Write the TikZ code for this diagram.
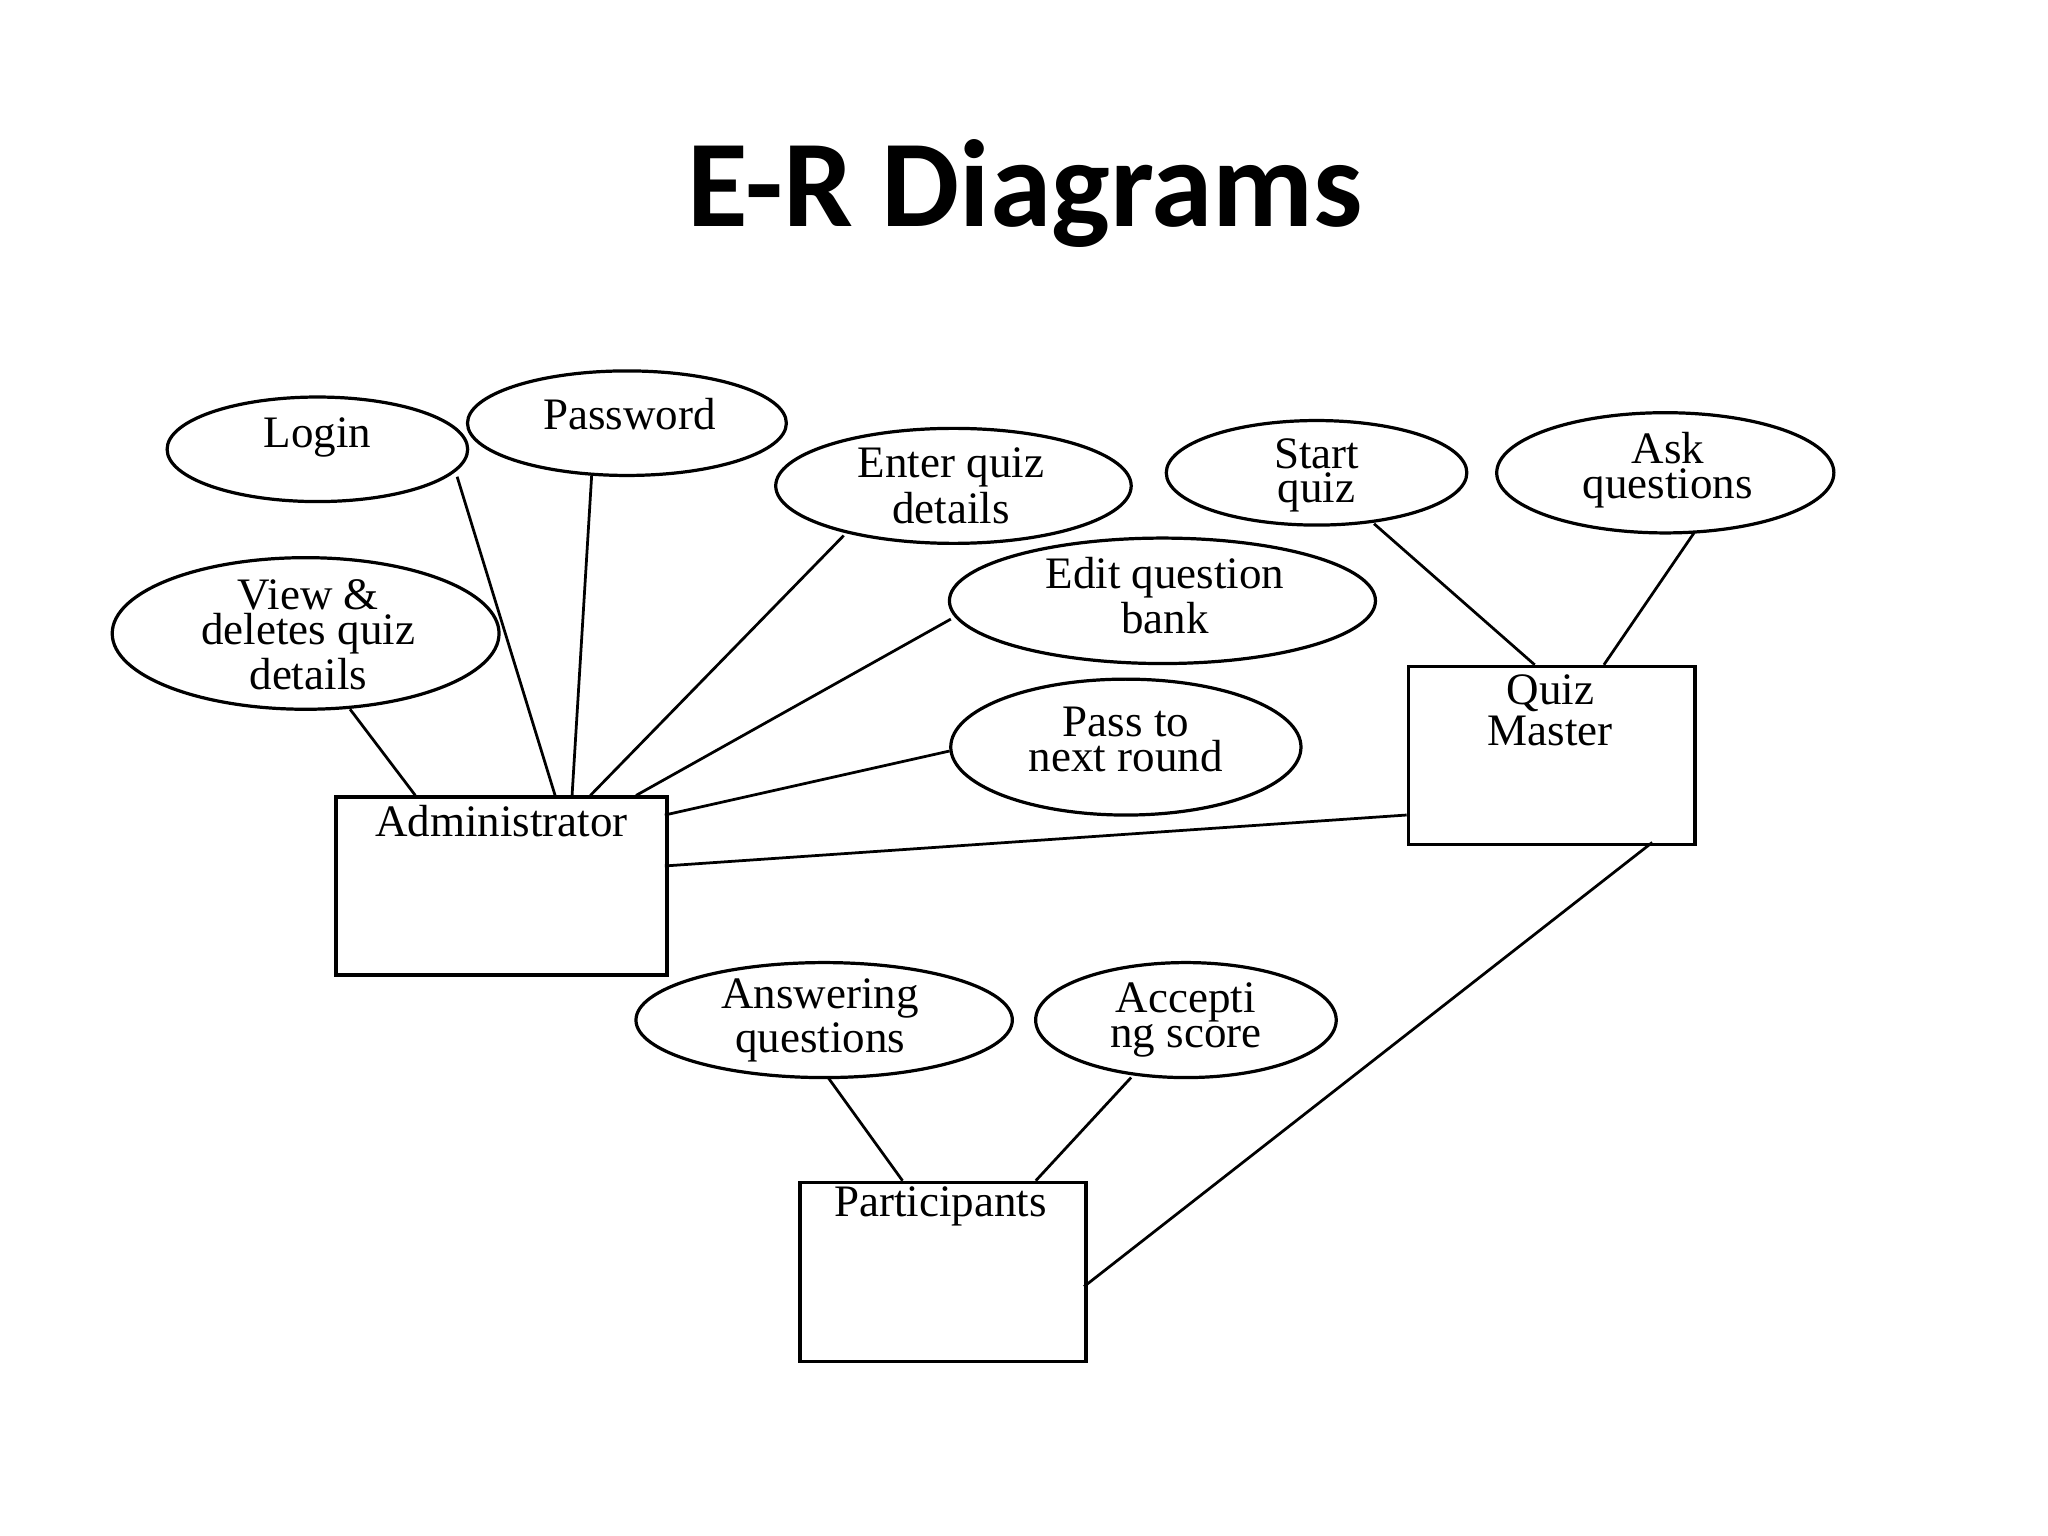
\documentclass[tikz,border=0pt]{standalone}
\usepackage{fontspec}
\setmainfont{Liberation Serif}
\newfontfamily\titlefont{Carlito}
\usetikzlibrary{shapes.geometric}
\begin{document}
\begin{tikzpicture}[x=0.01cm,y=-0.01cm,
  attr/.style={ellipse,draw,line width=0.7pt,inner sep=0pt},
  ent/.style={draw,line width=0.8pt,inner sep=0pt,anchor=north west},
  lbl/.style={font=\fontsize{9.8}{7.6}\selectfont,align=center,inner sep=0pt},
  conn/.style={line width=0.6pt}]
\useasboundingbox (0,0) rectangle (1568,1176);
\node[font=\titlefont\bfseries\fontsize{27}{27}\selectfont] (title) at (785,148) {E-R Diagrams};
% attributes
\node[attr,minimum width=2.30cm,minimum height=0.80cm] (login) at (243,344) {};
\node[lbl] (loginl) at (243,335) {Login};
\node[attr,minimum width=2.44cm,minimum height=0.80cm] (pwd) at (480,324) {};
\node[lbl] (pwdl) at (482,317) {Password};
\node[attr,minimum width=2.72cm,minimum height=0.88cm] (enter) at (730,372) {};
\node[lbl] (enterl) at (728,372) {Enter quiz\\details};
\node[attr,minimum width=2.30cm,minimum height=0.80cm] (start) at (1008,362) {};
\node[lbl] (startl) at (1008,364) {Start\\quiz};
\node[attr,minimum width=2.58cm,minimum height=0.92cm] (ask) at (1275,362) {};
\node[lbl] (askl) at (1277,360) {Ask\\questions};
\node[attr,minimum width=2.96cm,minimum height=1.16cm] (view) at (234,485) {};
\node[lbl] (viewl) at (236,486) {View \&\\deletes quiz\\details};
\node[attr,minimum width=3.26cm,minimum height=0.96cm] (edit) at (890,460) {};
\node[lbl] (editl) at (892,456) {Edit question\\bank};
\node[attr,minimum width=2.68cm,minimum height=1.04cm] (pass) at (862,572) {};
\node[lbl] (passl) at (862,566) {Pass to\\next round};
\node[attr,minimum width=2.88cm,minimum height=0.88cm] (ans) at (631,781) {};
\node[lbl] (ansl) at (628,781) {Answering\\questions};
\node[attr,minimum width=2.30cm,minimum height=0.88cm] (acc) at (908,781) {};
\node[lbl] (accl) at (908,781) {Accepti\\ng score};
% entities
\node[ent,minimum width=2.53cm,minimum height=1.36cm] (admin) at (256,609) {};
\node[lbl] (adminl) at (384,629) {Administrator};
\node[ent,minimum width=2.19cm,minimum height=1.36cm] (qm) at (1077,509) {};
\node[lbl] (qml) at (1187,544) {Quiz\\Master};
\node[ent,minimum width=2.19cm,minimum height=1.37cm] (part) at (611,904) {};
\node[lbl] (partl) at (720,924) {Participants};
% endpoints on entities
\coordinate (a1) at (425,609); \coordinate (a2) at (438,609);
\coordinate (a3) at (452,609); \coordinate (a4) at (318,609);
\coordinate (a5) at (487,609); \coordinate (a6) at (509,624);
\coordinate (a7) at (509,663);
\coordinate (q1) at (1077,624); \coordinate (q2) at (1175,509);
\coordinate (q3) at (1228,509); \coordinate (q4) at (1265,645);
\coordinate (p1) at (830,985); \coordinate (p2) at (691,904);
\coordinate (p3) at (793,904);
\draw[conn] (350,365) -- (a1);
\draw[conn] (453,364) -- (a2);
\draw[conn] (646,410) -- (a3);
\draw[conn] (268,543) -- (a4);
\draw[conn] (728,474) -- (a5);
\draw[conn] (727,575) -- (a6);
\draw[conn] (a7) -- (q1);
\draw[conn] (1052,401) -- (q2);
\draw[conn] (1297,408) -- (q3);
\draw[conn] (q4) -- (p1);
\draw[conn] (634,825) -- (p2);
\draw[conn] (866,825) -- (p3);
\end{tikzpicture}
\end{document}
